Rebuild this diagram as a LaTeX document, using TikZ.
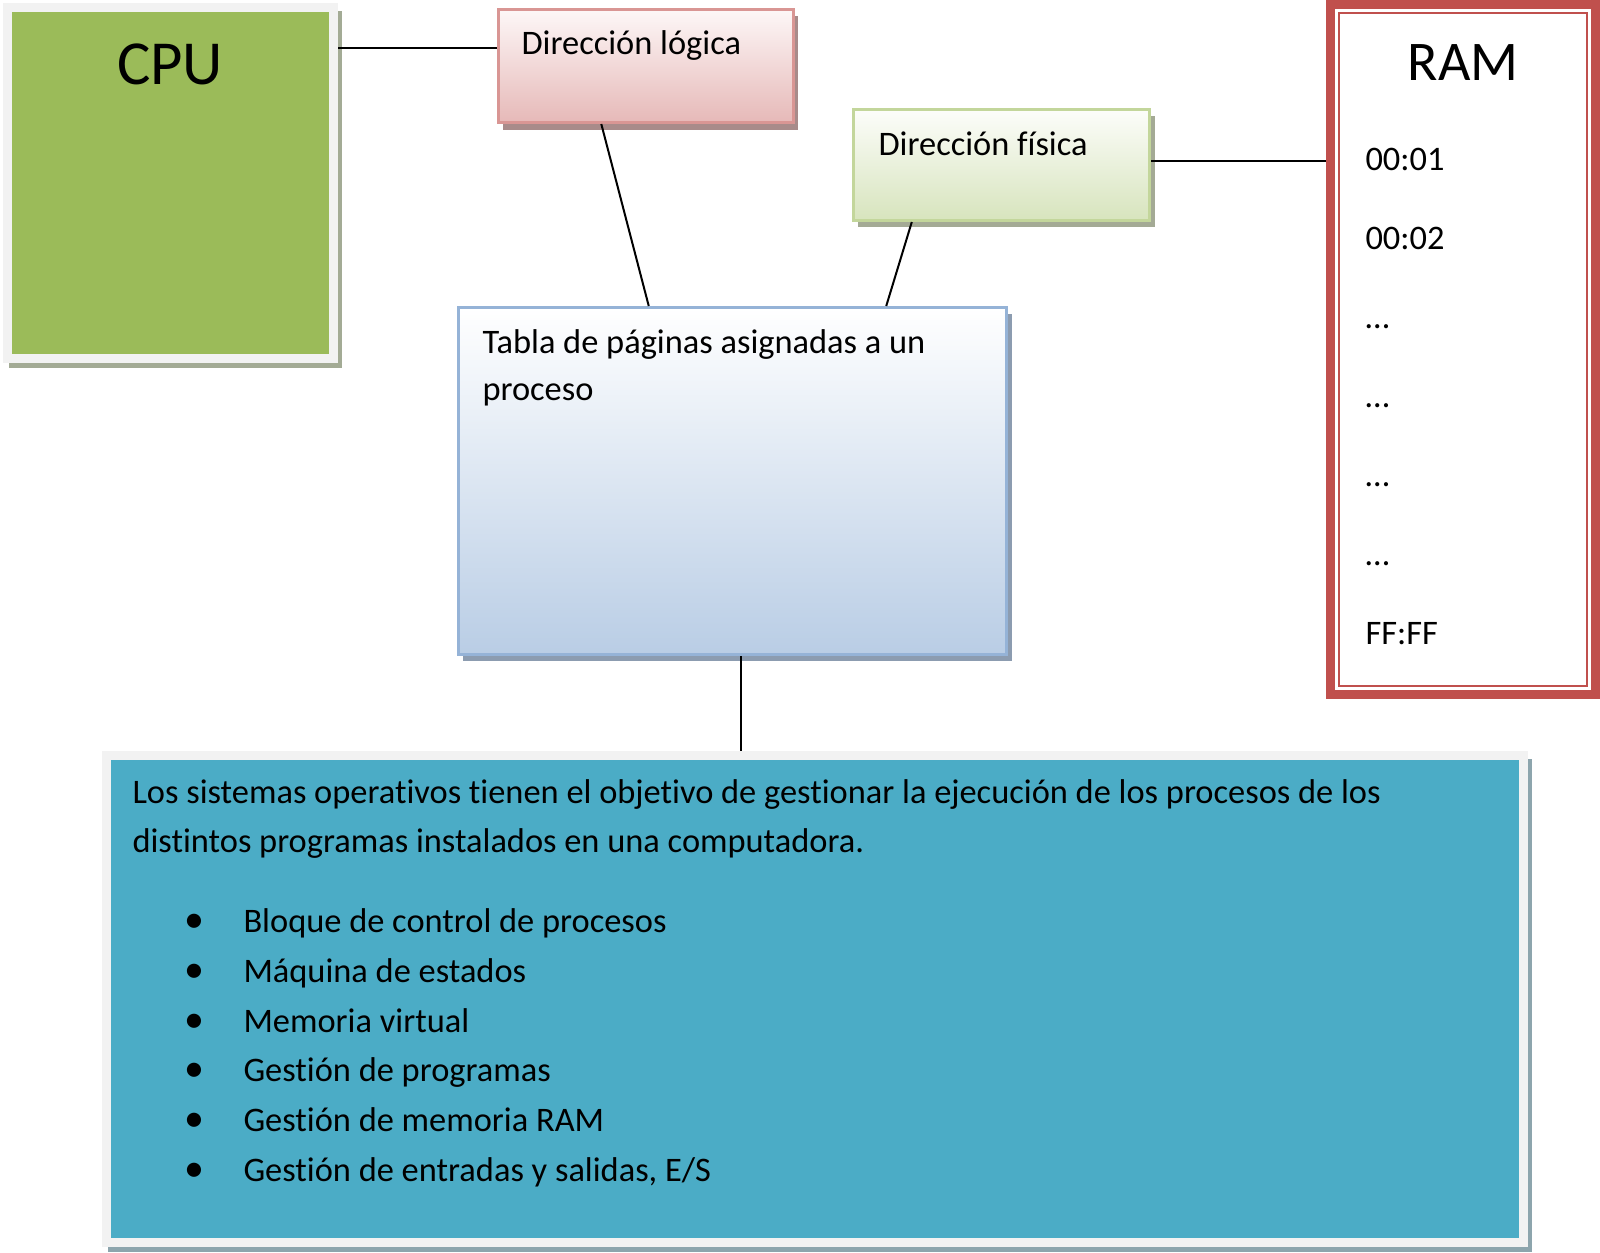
\documentclass[tikz,border=0pt]{standalone}
\usepackage{fontspec}
\setmainfont{Carlito}[Ligatures=NoCommon]
\usetikzlibrary{calc,backgrounds}
\definecolor{cpugreen}{HTML}{9BBB59}
\definecolor{framegray}{HTML}{F2F2F2}
\definecolor{cpushadow}{HTML}{A3AB95}
\definecolor{pinkb}{HTML}{D99694}
\definecolor{pinkbot}{HTML}{E6B9B8}
\definecolor{pinktop}{HTML}{FDF7F7}
\definecolor{pinkshadow}{HTML}{A88B8A}
\definecolor{greenb}{HTML}{C3D69B}
\definecolor{greenbot}{HTML}{D7E4BD}
\definecolor{greentop}{HTML}{FCFDFA}
\definecolor{greenshadow}{HTML}{A4AA95}
\definecolor{blueb}{HTML}{95B3D7}
\definecolor{bluebot}{HTML}{B9CDE5}
\definecolor{bluetop}{HTML}{FFFFFF}
\definecolor{blueshadow}{HTML}{8C9CB0}
\definecolor{tealfill}{HTML}{4BACC6}
\definecolor{tealshadow}{HTML}{8DA5AD}
\definecolor{ramred}{HTML}{C0504D}
\begin{document}
\begin{tikzpicture}[x=0.375pt,y=-0.375pt,
  box/.style={anchor=north west, inner sep=0pt},
  conn/.style={draw=black, line width=0.75pt},
  bodytxt/.style={anchor=base west, inner sep=0pt, font=\fontsize{12.9pt}{15pt}\selectfont},
  bigtxt/.style={anchor=base, inner sep=0pt, font=\fontsize{23.5pt}{28pt}\selectfont},
  ramtitle/.style={anchor=base, inner sep=0pt, font=\fontsize{21pt}{25pt}\selectfont},
  bul/.style={anchor=base, inner sep=0pt, font=\fontsize{15pt}{17pt}\selectfont},
]
\useasboundingbox (0,0) rectangle (1600,1252);

% boxes
\node[box, draw=framegray, line width=3.375pt, fill=cpugreen,
  minimum width={326*0.375pt}, minimum height={351*0.375pt}] (cpu) at (3,3) {};
\node[box, draw=pinkb, line width=1.125pt, top color=pinktop, bottom color=pinkbot,
  minimum width={295*0.375pt}, minimum height={113*0.375pt}] (dl) at (497,8) {};
\node[box, draw=greenb, line width=1.125pt, top color=greentop, bottom color=greenbot,
  minimum width={296*0.375pt}, minimum height={111*0.375pt}] (df) at (852,108) {};
\node[box, draw=blueb, line width=1.125pt, top color=bluetop, bottom color=bluebot,
  minimum width={548*0.375pt}, minimum height={347*0.375pt}] (tabla) at (457,306) {};
\node[box, draw=framegray, line width=3.375pt, fill=tealfill,
  minimum width={1417*0.375pt}, minimum height={487*0.375pt}] (bot) at (102,751) {};
\node[box, draw=ramred, line width=3.375pt, fill=white,
  minimum width={265*0.375pt}, minimum height={690*0.375pt}] (ram) at (1326,0) {};
\draw[ramred, line width=0.75pt] ($(ram.north west)+(13,13)$) rectangle ($(ram.south east)+(-13,-13)$);

% shadows
\begin{scope}[on background layer]
  \fill[cpushadow] ($(cpu.north west)+(6,8)$) rectangle ($(cpu.south east)+(4,5)$);
  \fill[pinkshadow] ($(dl.north west)+(6,8)$) rectangle ($(dl.south east)+(3,6)$);
  \fill[greenshadow] ($(df.north west)+(6,8)$) rectangle ($(df.south east)+(4,5)$);
  \fill[blueshadow] ($(tabla.north west)+(6,8)$) rectangle ($(tabla.south east)+(4,5)$);
  \fill[tealshadow] ($(bot.north west)+(6,8)$) rectangle ($(bot.south east)+(4,5)$);
\end{scope}

% connectors
\draw[conn] (cpu.east |- 0,48) -- (dl.west |- 0,48);
\draw[conn] ($(dl.south west)!0.35!(dl.south east)$) -- ($(tabla.north west)!0.348!(tabla.north east)$);
\draw[conn] ($(df.south west)!0.2!(df.south east)$) -- ($(tabla.north west)!0.779!(tabla.north east)$);
\draw[conn] (df.east |- 0,161) -- (ram.west |- 0,161);
\coordinate (tb) at ($(tabla.south west)!0.515!(tabla.south east)$);
\draw[conn] (tb) -- (tb |- bot.north);

% texts
\node[bigtxt] (cputxt) at (170,84) {CPU};
\node[ramtitle] (ramtxt) at (1463,80) {RAM};
\node[bodytxt] (dltxt) at (521,54) {Dirección lógica};
\node[bodytxt] (dftxt) at (878,155) {Dirección física};
\node[bodytxt] (tb1) at (482,353) {Tabla de páginas asignadas a un};
\node[bodytxt] (tb2) at (482,400) {proceso};

\node[bodytxt] (r1) at (1365,170) {00:01};
\node[bodytxt] (r2) at (1365,249) {00:02};
\node[bodytxt] (r3) at (1365,328) {…};
\node[bodytxt] (r4) at (1365,407) {…};
\node[bodytxt] (r5) at (1365,486) {…};
\node[bodytxt] (r6) at (1365,565) {…};
\node[bodytxt] (r7) at (1365,644) {FF:FF};

\node[bodytxt] (p1) at (132,803) {Los sistemas operativos tienen el objetivo de gestionar la ejecución de los procesos de los};
\node[bodytxt] (p2) at (132,852) {distintos programas instalados en una computadora.};

\foreach \y/\t [count=\i] in {932/Bloque de control de procesos, 982/Máquina de estados, 1032/Memoria virtual, 1081/Gestión de programas, 1131/Gestión de memoria RAM, 1181/{Gestión de entradas y salidas, E/S}} {
  \node[bul] (b\i) at (194,\y) {•};
  \node[bodytxt] (i\i) at (243,\y) {\t};
}
\end{tikzpicture}
\end{document}
